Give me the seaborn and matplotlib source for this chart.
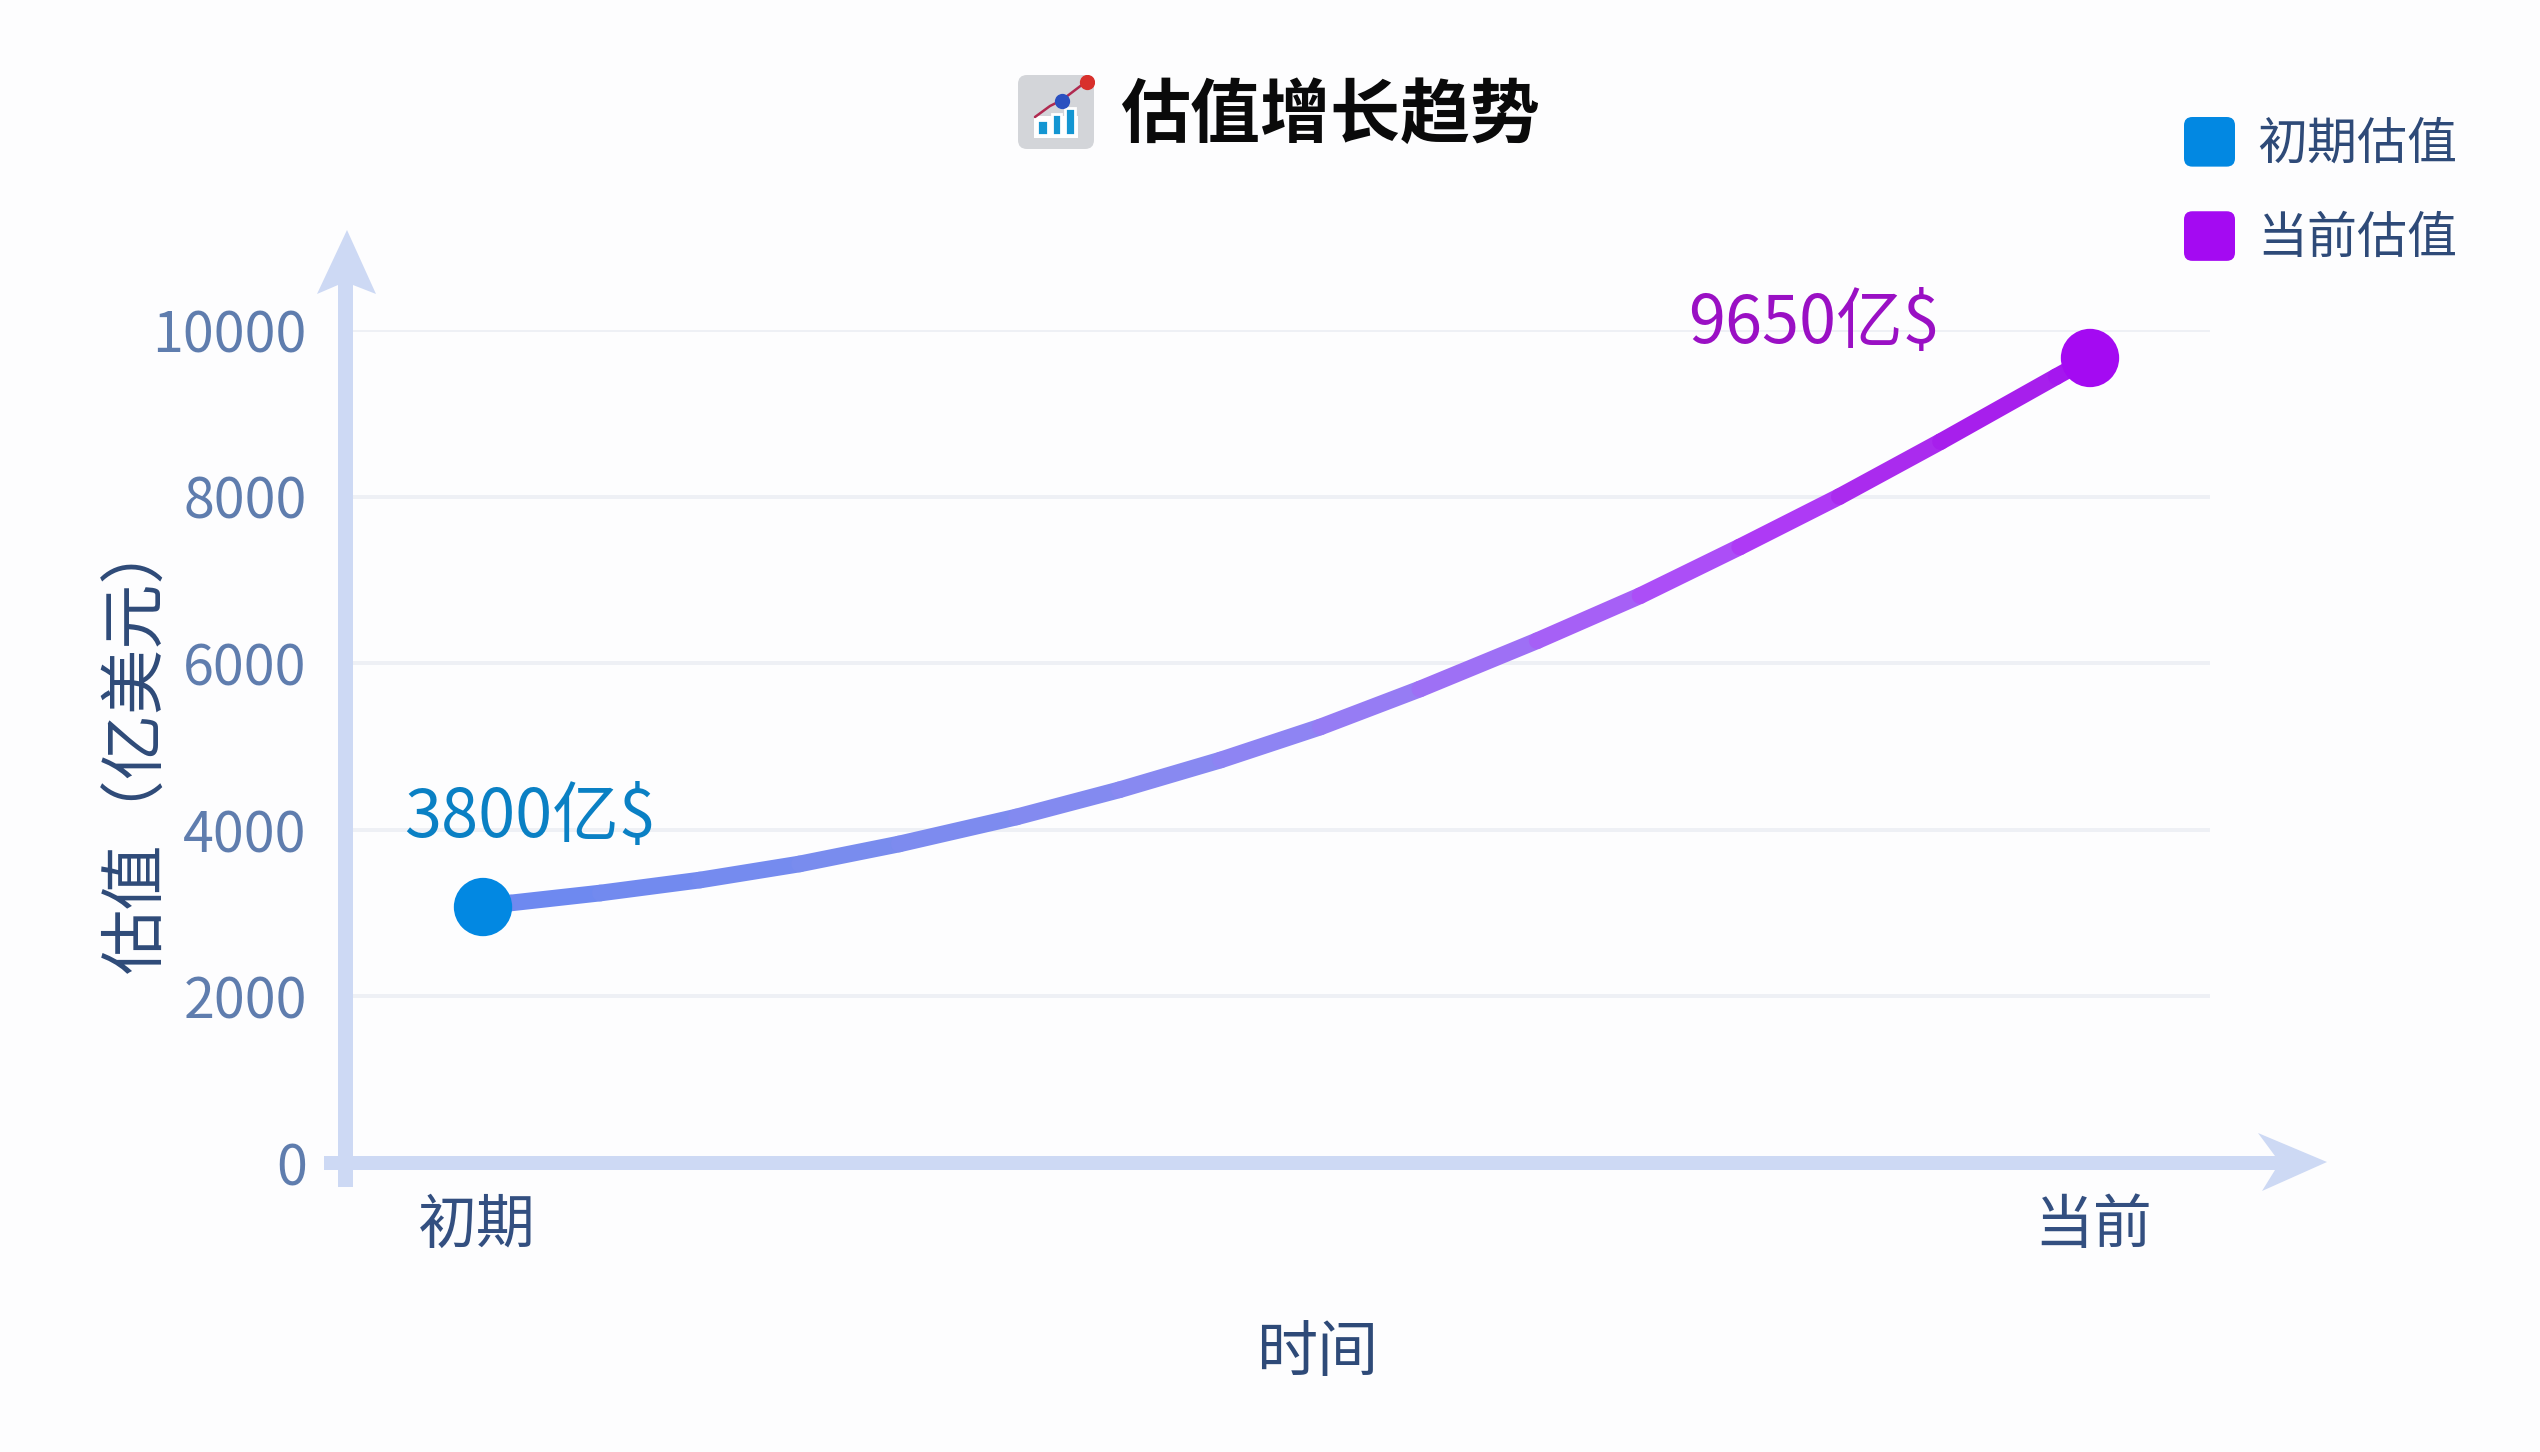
import matplotlib
matplotlib.use("Agg")
import matplotlib.pyplot as plt
import seaborn as sns
from matplotlib.colors import LinearSegmentedColormap
from matplotlib.legend_handler import HandlerPatch
from matplotlib.patches import FancyBboxPatch, Patch, Polygon, Rectangle
from matplotlib.transforms import ScaledTranslation

# values
time_pos = [0, .017, .073, .135, .197, .259, .332, .396, .459, .521, .583, .656, .720, .782, .844, .907, .979, 1]
valuation = [3073, 3121, 3241, 3397, 3590, 3830, 4154, 4480, 4838, 5234, 5690, 6270, 6810, 7395, 8000, 8660, 9440, 9664]
period_labels = ["初期", "当前"]
period_pos = [0, 1]
series_names = ["初期估值", "当前估值"]
value_labels = ["3800亿$", "9650亿$"]
y_ticks = [0, 2000, 4000, 6000, 8000, 10000]

BG = "#fdfdfe"
BLUE = "#0288e2"
PURPLE = "#a40af2"
AXIS = "#cdd9f4"
W, H = 2540, 1452


def px(x, y):
    return x / W, 1 - y / H


sns.set_theme(style="whitegrid", rc={
    "figure.facecolor": BG,
    "axes.facecolor": "none",
    "grid.color": "#eef0f5",
    "grid.linewidth": 1.4,
})
plt.rcParams["font.family"] = ["Noto Sans CJK SC", "DejaVu Sans"]

fig = plt.figure(figsize=(12.7, 7.26), dpi=200)
ax = fig.add_axes([346 / W, 1 - 1163 / H, (2210 - 346) / W, (1163 - 330) / H])

# gradient line, one piece between each pair of points read
grad = LinearSegmentedColormap.from_list("grad", [
    (0, "#6c88f0"), (.25, "#7a8cee"), (.46, "#8a88f2"),
    (.58, "#9a78f5"), (.72, "#a95af6"), (.79, "#b040f8"), (.91, "#a824ea"), (1, "#a516f0"),
])
for i in range(len(time_pos) - 1):
    mid = (time_pos[i] + time_pos[i + 1]) / 2
    sns.lineplot(x=time_pos[i:i + 2], y=valuation[i:i + 2], color=grad(mid), linewidth=6,
                 errorbar=None, legend=False, solid_capstyle="round", ax=ax, zorder=3)

sns.scatterplot(x=[time_pos[0], time_pos[-1]], y=[valuation[0], valuation[-1]], hue=series_names,
                palette=[BLUE, PURPLE], s=441, linewidth=0, legend=False, clip_on=False, ax=ax, zorder=5)

ax.set_xlim(-137 / 1607, 1727 / 1607)
ax.set_ylim(0, 10000)
ax.set_yticks(y_ticks)
ax.set_xticks(period_pos, period_labels)
ax.grid(False, axis="x")
sns.despine(ax=ax, left=True, bottom=True)
ax.tick_params(axis="y", length=7.9, width=2.5, color="#bfcae3", labelsize=20, labelcolor="#5f7dae", pad=6.2)
ax.tick_params(axis="x", length=0, labelsize=21.2, labelcolor="#334f80", pad=12)

# the two period labels sit a little off their points in the reference
first_label, last_label = ax.get_xticklabels()
first_label.set_transform(first_label.get_transform() + ScaledTranslation(-2.2 / 72, 0, fig.dpi_scale_trans))
last_label.set_transform(last_label.get_transform() + ScaledTranslation(1 / 72, 0, fig.dpi_scale_trans))

ax.set_xlabel("时间", fontsize=22, color="#2e4a78")
ax.xaxis.set_label_coords((1317 - 346) / (2210 - 346), (1163 - 1323) / (1163 - 330))
ax.set_ylabel("估值（亿美元）", fontsize=23.5, color="#2e4a78")
ax.yaxis.set_label_coords(-.0935, (1163 - 745) / (1163 - 330))

ax.annotate(value_labels[0], (time_pos[0], valuation[0]), xytext=(-28.5, 32), textcoords="offset points",
            fontsize=24, fontweight="medium", color="#0a80c4", va="center", ha="left")
ax.annotate(value_labels[1], (time_pos[-1], valuation[-1]), xytext=(-144.5, 12), textcoords="offset points",
            fontsize=24, fontweight="medium", color="#9a10c4", va="center", ha="left")

# axis lines with arrow heads
fig.add_artist(Polygon([px(338, 1187), px(353, 1187), px(353, 285), px(376, 294), px(347, 230),
                        px(317, 294), px(338, 285)], transform=fig.transFigure, fc=AXIS, ec="none", zorder=2))
fig.add_artist(Polygon([px(324, 1156), px(2275, 1156), px(2258, 1133), px(2327, 1162), px(2262, 1191),
                        px(2275, 1170), px(324, 1170)], transform=fig.transFigure, fc=AXIS, ec="none", zorder=2))

# title and its icon
fig.text(*px(1330, 117), "估值增长趋势", fontsize=25.2, fontweight="bold", color="#0a0a0a", ha="center", va="center")

icon = fig.add_axes([1018 / W, 1 - 149 / H, 76 / W, 74 / H])
icon.set_xlim(1018, 1094)
icon.set_ylim(149, 75)
icon.axis("off")
icon.add_patch(FancyBboxPatch((1022, 79), 68, 66, boxstyle="round,pad=4,rounding_size=9", fc="#d3d5d9", ec="none"))
icon.add_patch(Rectangle((1034, 116), 44, 22, fc="white", ec="none"))
icon.bar([1042.5, 1056.5, 1070], [15, 21, 27], bottom=[120, 114, 108], width=[11, 9, 10], color="#1496d2")
icon.plot([1035, 1050, 1062, 1087], [117, 106, 100, 81], color="#b02a50", lw=0.9)
icon.plot([1062], [101], "o", color="#2a50c0", ms=5.5, mew=0)
icon.plot([1087], [82], "o", color="#d8302c", ms=5.5, mew=0)


class RoundSquare(HandlerPatch):
    def create_artists(self, legend, orig, xd, yd, width, height, fontsize, trans):
        pad = 3.0
        box = FancyBboxPatch((-xd + pad, -yd + pad), width - 2 * pad, height - 2 * pad,
                             boxstyle=f"round,pad={pad},rounding_size={pad}",
                             fc=orig.get_facecolor(), ec="none", transform=trans)
        return [box]


handles = [Patch(fc=BLUE), Patch(fc=PURPLE)]
fig.legend(handles, series_names, handler_map={Patch: RoundSquare()}, loc="upper left",
           bbox_to_anchor=px(2184, 117), frameon=False, borderpad=0, borderaxespad=0, fontsize=18,
           labelcolor="#2e4a78", handlelength=1.02, handleheight=1.15, handletextpad=0.45, labelspacing=0.81)

fig.savefig("out.png", dpi=200, facecolor=BG)
